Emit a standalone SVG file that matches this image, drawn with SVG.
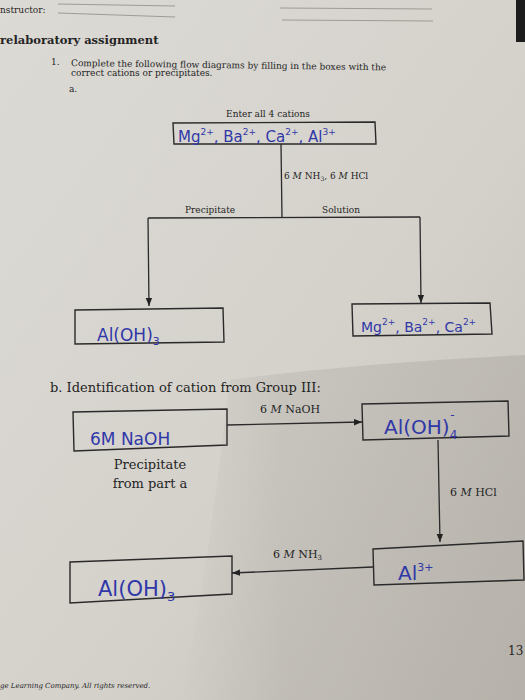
<svg xmlns="http://www.w3.org/2000/svg" width="525" height="700" viewBox="0 0 525 700">
<defs>
<linearGradient id="bg" x1="0" y1="0" x2="1" y2="1">
<stop offset="0" stop-color="#dcdad5"/>
<stop offset="0.55" stop-color="#d5d2cc"/>
<stop offset="1" stop-color="#c4c0b9"/>
</linearGradient>
<linearGradient id="shade" x1="0" y1="0" x2="1" y2="0">
<stop offset="0" stop-color="#8a857d" stop-opacity="0"/>
<stop offset="0.3" stop-color="#8a857d" stop-opacity="0.18"/>
<stop offset="1" stop-color="#8a857d" stop-opacity="0.25"/>
</linearGradient>
<marker id="ah" viewBox="0 0 10 10" refX="10" refY="5" markerWidth="8" markerHeight="8" orient="auto" markerUnits="userSpaceOnUse">
<path d="M0,1 L10,5 L0,9 Z" fill="#222"/>
</marker>
<style>
.t{font-family:"DejaVu Serif","Liberation Serif",serif;fill:#242424}
.s{font-size:9px}
.m{font-size:11px}
.l{font-size:13px}
.box{fill:none;stroke:#2a2a2a;stroke-width:1.4}
.ln{fill:none;stroke:#2a2a2a;stroke-width:1.3}
.hw{font-family:"DejaVu Sans","Liberation Sans",sans-serif;fill:#3038a8}
.rule{stroke:#8f8b85;stroke-width:0.8}
</style>
</defs>
<rect width="525" height="700" fill="url(#bg)"/>
<path d="M230,380 C300,370 420,360 525,355 L525,700 L180,700 C200,620 215,500 230,380 Z" fill="url(#shade)"/>
<rect x="516" y="0" width="9" height="42" fill="#1c1c1c"/>

<g id="header">
<text class="t s" x="0" y="13">nstructor:</text>
<line class="rule" x1="58" y1="4" x2="175" y2="6"/>
<line class="rule" x1="58" y1="13" x2="175" y2="17"/>
<line class="rule" x1="280" y1="8" x2="432" y2="9"/>
<line class="rule" x1="282" y1="20" x2="433" y2="21"/>
<text class="t" x="0" y="44" font-size="11.5" font-weight="bold">relaboratory assignment</text>
<text class="t s" x="51" y="65">1.</text>
<text class="t s" x="71" y="66" transform="rotate(0.8 71 66)">Complete the following flow diagrams by filling in the boxes with the</text>
<text class="t s" x="71" y="76">correct cations or precipitates.</text>
<text class="t s" x="69" y="92">a.</text>
</g>

<g id="connectors">
<line class="ln" x1="281" y1="144" x2="282" y2="218"/>
<line class="ln" x1="148" y1="218" x2="420" y2="217"/>
<line class="ln" x1="148" y1="218" x2="149" y2="306" marker-end="url(#ah)"/>
<line class="ln" x1="420" y1="217" x2="421" y2="303" marker-end="url(#ah)"/>
<line class="ln" x1="227" y1="425" x2="362" y2="422" marker-end="url(#ah)"/>
<line class="ln" x1="438" y1="440" x2="440" y2="542" marker-end="url(#ah)"/>
<line class="ln" x1="373" y1="567" x2="232" y2="573" marker-end="url(#ah)"/>
<text class="t s" x="284" y="179">6 <tspan font-style="italic">M</tspan> NH<tspan font-size="6" dy="2">3</tspan><tspan dy="-2">, 6 </tspan><tspan font-style="italic">M</tspan> HCl</text>
<text class="t s" x="185" y="213">Precipitate</text>
<text class="t s" x="322" y="213">Solution</text>
<text class="t m" x="260" y="413">6 <tspan font-style="italic">M</tspan> NaOH</text>
<text class="t m" x="450" y="496">6 <tspan font-style="italic">M</tspan> HCl</text>
<text class="t m" x="273" y="558">6 <tspan font-style="italic">M</tspan> NH<tspan font-size="7" dy="2">3</tspan></text>
</g>

<g id="node-a-top">
<text class="t s" x="268" y="117" text-anchor="middle">Enter all 4 cations</text>
<polygon class="box" points="173,123 375,122 376,144 174,144"/>
<text class="hw" x="178" y="142" font-size="15">Mg<tspan font-size="9" dy="-7">2+</tspan><tspan dy="7">, Ba</tspan><tspan font-size="9" dy="-7">2+</tspan><tspan dy="7">, Ca</tspan><tspan font-size="9" dy="-7">2+</tspan><tspan dy="7">, Al</tspan><tspan font-size="9" dy="-7">3+</tspan></text>
</g>

<g id="node-a-precipitate">
<polygon class="box" points="75,310 223,308 224,342 75,344"/>
<text class="hw" x="97" y="341" font-size="17">Al(OH)<tspan font-size="11" dy="4">3</tspan></text>
</g>

<g id="node-a-solution">
<polygon class="box" points="352,304 490,303 492,334 353,336"/>
<text class="hw" x="361" y="332" font-size="14">Mg<tspan font-size="9" dy="-7">2+</tspan><tspan dy="7">, Ba</tspan><tspan font-size="9" dy="-7">2+</tspan><tspan dy="7">, Ca</tspan><tspan font-size="9" dy="-7">2+</tspan></text>
</g>

<text class="t l" x="50" y="392">b.  Identification of cation from Group III:</text>

<g id="node-b-start">
<polygon class="box" points="73,412 227,409 227,445 74,451"/>
<text class="hw" x="90" y="445" font-size="17">6M NaOH</text>
<text class="t l" x="150" y="469" text-anchor="middle">Precipitate</text>
<text class="t l" x="150" y="488" text-anchor="middle">from part a</text>
</g>

<g id="node-b-aloh4">
<polygon class="box" points="362,404 508,401 509,436 363,440"/>
<text class="hw" x="384" y="434" font-size="20">Al(OH)<tspan font-size="12" dy="5">4</tspan><tspan font-size="12" dx="-7" dy="-20">-</tspan></text>
</g>

<g id="node-b-al3">
<polygon class="box" points="373,549 523,541 524,580 374,585"/>
<text class="hw" x="398" y="580" font-size="20">Al<tspan font-size="11" dy="-9">3+</tspan></text>
</g>

<g id="node-b-aloh3">
<polygon class="box" points="70,562 232,556 232,594 70,603"/>
<text class="hw" x="98" y="596" font-size="21">Al(OH)<tspan font-size="13" dy="5">3</tspan></text>
</g>

<text class="t" x="508" y="655" font-size="12" fill="#555">13</text>
<text class="t" x="0" y="688" font-size="7" font-style="italic">ge Learning Company. All rights reserved.</text>
</svg>
